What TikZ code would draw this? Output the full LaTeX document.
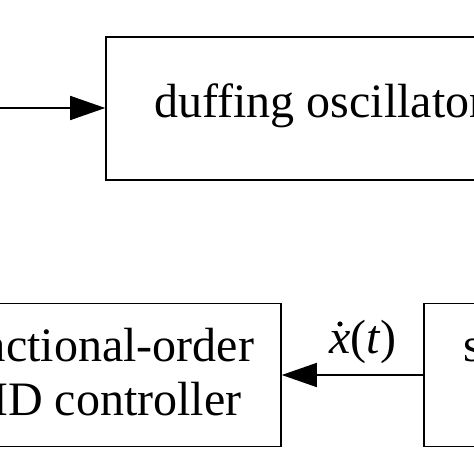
\documentclass[tikz,border=0pt]{standalone}
\usepackage{fontspec}
\setmainfont{Liberation Serif}
\usetikzlibrary{arrows.meta}
\begin{document}
\begin{tikzpicture}[x=1bp,y=-1bp,
  blockbox/.style={draw=black, line width=1.5bp, minimum width=#1, inner sep=0pt, minimum height=143bp},
  bigtext/.style={inner sep=0pt, anchor=base, font=\fontsize{48bp}{54bp}\selectfont},
  flow/.style={line width=1.5bp, -{Triangle[length=35bp,width=24bp]}}]
\useasboundingbox (0,0) rectangle (474,474);
\clip (0,0) rectangle (474,474);
\fill[white] (0,0) rectangle (474,474);
% boxes
\node[blockbox=428bp] (duff) at (320,108.5) {};
\node[blockbox=355bp] (ctrl) at (103.5,375) {};
\node[blockbox=176bp] (sens) at (512,375) {};
% texts
\node[bigtext] (dufft) at (320,118) {duffing oscillator};
\node[bigtext] (ctrla) at (103.5,361) {fractional-order};
\node[bigtext] (ctrlb) at (103.5,415) {PID controller};
\node[bigtext, anchor=base west] (senst) at (463,361) {s};
% connectors
\coordinate (in) at (-20,108);
\draw[flow] (in) -- (duff.west |- in);
\draw[flow] (sens.west) -- (ctrl.east);
\node[bigtext] (xlab) at (363,353) {\textit{x}(\textit{t})};
\fill (340,324) circle (2.6bp);
\end{tikzpicture}
\end{document}
